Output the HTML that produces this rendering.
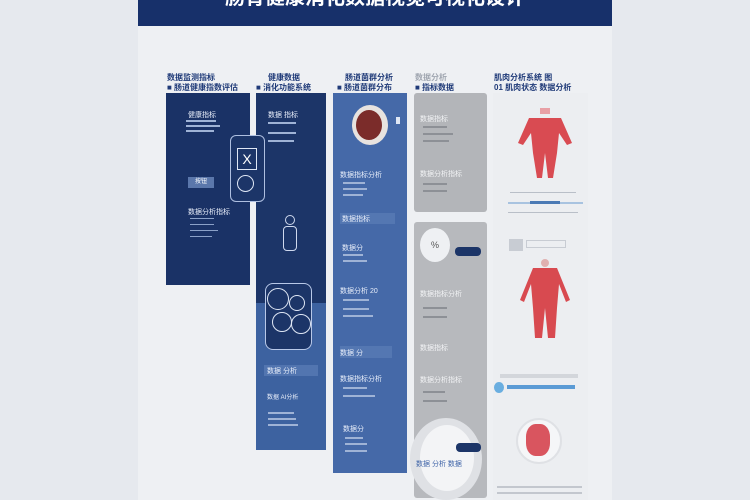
<!DOCTYPE html><html><head><meta charset="utf-8"><style>
body{margin:0;width:750px;height:500px;background:#e6e9ee;position:relative;overflow:hidden;font-family:"Liberation Sans","Noto Sans CJK SC",sans-serif}
div{position:absolute;box-sizing:border-box}
.t{font-size:8px;color:#1f3a78;font-weight:bold;white-space:nowrap}
.w{font-size:7px;color:#e8eefa;white-space:nowrap}
.l{height:2px;background:#9fb3d6}
.g{height:2px;background:#8d9096}
.gl{font-size:7px;color:#f2f3f5;white-space:nowrap}
</style></head><body>
<div style="left:138px;top:0;width:474px;height:500px;background:#eef0f3"></div>
<div style="left:138px;top:0;width:474px;height:26px;background:#17306a;overflow:hidden"><div style="left:0;top:-14px;width:474px;color:#fff;font-size:20px;font-weight:bold;text-align:center;line-height:24px">肠胃健康消化数据视觉可视化设计</div></div>

<div class="t" style="left:167px;top:72px">数据监测指标</div><div class="t" style="left:167px;top:82px">■ 肠道健康指数评估</div>
<div class="t" style="left:268px;top:72px">健康数据</div><div class="t" style="left:256px;top:82px">■ 消化功能系统</div>
<div class="t" style="left:345px;top:72px">肠道菌群分析</div><div class="t" style="left:337px;top:82px">■ 肠道菌群分布</div>
<div class="t" style="left:415px;top:72px;color:#a0a6b0">数据分析</div><div class="t" style="left:415px;top:82px">■ 指标数据</div>
<div class="t" style="left:494px;top:72px">肌肉分析系统 图</div><div class="t" style="left:494px;top:82px">01 肌肉状态 数据分析</div>

<div style="left:166px;top:93px;width:84px;height:192px;background:#1a3266"></div>
<div class="w" style="left:188px;top:110px">健康指标</div>
<div style="left:186px;top:120px;width:30px" class="l"></div><div style="left:186px;top:125px;width:34px" class="l"></div><div style="left:186px;top:130px;width:28px" class="l"></div>
<div style="left:188px;top:177px;width:26px;height:11px;background:#5b77ab;font-size:6px;color:#fff;text-align:center;line-height:11px">按钮</div>
<div class="w" style="left:188px;top:207px">数据分析指标</div>
<div style="left:190px;top:218px;width:24px;height:1px;background:#8ba1c8"></div><div style="left:190px;top:224px;width:24px;height:1px;background:#8ba1c8"></div><div style="left:190px;top:230px;width:28px;height:1px;background:#8ba1c8"></div><div style="left:190px;top:236px;width:22px;height:1px;background:#8ba1c8"></div>

<div style="left:256px;top:93px;width:70px;height:210px;background:#1c3568"></div>
<div style="left:256px;top:303px;width:70px;height:147px;background:#3d62a0"></div>
<div class="w" style="left:268px;top:110px">数据 指标</div>
<div style="left:268px;top:122px;width:28px" class="l"></div><div style="left:268px;top:132px;width:28px" class="l"></div><div style="left:268px;top:140px;width:26px" class="l"></div>
<div style="left:230px;top:135px;width:35px;height:67px;border:1px solid #aebfe0;border-radius:6px;background:#1c3568"></div>
<div style="left:237px;top:148px;width:20px;height:22px;border:1px solid #dfe7f5;color:#fff;font-size:14px;text-align:center;line-height:20px">X</div>
<div style="left:237px;top:175px;width:17px;height:17px;border:1px solid #dfe7f5;border-radius:50%"></div>
<div style="left:285px;top:215px;width:10px;height:10px;border:1px solid #cfd9ee;border-radius:50%"></div>
<div style="left:283px;top:226px;width:14px;height:25px;border:1px solid #cfd9ee;border-radius:4px"></div>
<div style="left:265px;top:283px;width:47px;height:67px;border:1px solid #b8c8e8;border-radius:8px;background:#1c3568"></div>
<div style="left:267px;top:288px;width:22px;height:22px;border:1px solid #dfe7f5;border-radius:50%"></div>
<div style="left:289px;top:295px;width:16px;height:16px;border:1px solid #dfe7f5;border-radius:50%"></div>
<div style="left:272px;top:312px;width:20px;height:20px;border:1px solid #dfe7f5;border-radius:50%"></div>
<div style="left:291px;top:314px;width:20px;height:20px;border:1px solid #dfe7f5;border-radius:50%"></div>
<div style="left:264px;top:365px;width:54px;height:11px;background:#5275b0"></div><div class="w" style="left:267px;top:366px">数据 分析</div>
<div class="w" style="left:267px;top:392px;font-size:6px">数据 AI分析</div>
<div style="left:268px;top:412px;width:26px" class="l"></div><div style="left:268px;top:418px;width:28px" class="l"></div><div style="left:268px;top:424px;width:30px" class="l"></div>

<div style="left:333px;top:93px;width:74px;height:380px;background:#4569a8"></div>
<div style="left:352px;top:105px;width:36px;height:40px;border-radius:50%;background:#e8e3df"></div>
<div style="left:356px;top:110px;width:26px;height:30px;border-radius:50%;background:#7b2c2a"></div>
<div style="left:396px;top:117px;width:4px;height:7px;background:#dfe7f5"></div>
<div class="w" style="left:340px;top:170px">数据指标分析</div>
<div style="left:343px;top:182px;width:22px" class="l"></div><div style="left:343px;top:188px;width:24px" class="l"></div><div style="left:343px;top:194px;width:20px" class="l"></div>
<div style="left:340px;top:213px;width:55px;height:11px;background:#5477b2"></div><div class="w" style="left:342px;top:214px">数据指标</div>
<div class="w" style="left:342px;top:243px">数据分</div>
<div style="left:343px;top:254px;width:20px" class="l"></div><div style="left:343px;top:260px;width:24px" class="l"></div>
<div class="w" style="left:340px;top:286px">数据分析 20</div>
<div style="left:343px;top:299px;width:26px" class="l"></div><div style="left:343px;top:308px;width:26px" class="l"></div><div style="left:343px;top:315px;width:30px" class="l"></div>
<div style="left:340px;top:346px;width:52px;height:12px;background:#5477b2"></div><div class="w" style="left:340px;top:348px">数据 分</div>
<div class="w" style="left:340px;top:374px">数据指标分析</div>
<div style="left:343px;top:387px;width:24px" class="l"></div><div style="left:343px;top:395px;width:32px" class="l"></div>
<div class="w" style="left:343px;top:424px">数据分</div>
<div style="left:345px;top:437px;width:18px" class="l"></div><div style="left:345px;top:443px;width:22px" class="l"></div><div style="left:345px;top:450px;width:22px" class="l"></div>

<div style="left:414px;top:93px;width:73px;height:119px;background:#b3b5b9;border-radius:3px"></div>
<div class="gl" style="left:420px;top:114px">数据指标</div>
<div style="left:423px;top:126px;width:24px" class="g"></div><div style="left:423px;top:133px;width:30px" class="g"></div><div style="left:423px;top:140px;width:26px" class="g"></div>
<div class="gl" style="left:420px;top:169px">数据分析指标</div>
<div style="left:423px;top:183px;width:24px" class="g"></div><div style="left:423px;top:190px;width:24px" class="g"></div>
<div style="left:414px;top:222px;width:73px;height:276px;background:#b7b9bd;border-radius:3px"></div>
<div style="left:420px;top:228px;width:30px;height:34px;border-radius:50%;background:#eef0f3;font-size:9px;color:#555;text-align:center;line-height:34px">%</div>
<div style="left:455px;top:247px;width:26px;height:9px;border-radius:4px;background:#1c3568"></div>
<div class="gl" style="left:420px;top:289px">数据指标分析</div>
<div style="left:423px;top:307px;width:24px" class="g"></div><div style="left:423px;top:316px;width:24px" class="g"></div>
<div class="gl" style="left:420px;top:343px">数据指标</div>
<div class="gl" style="left:420px;top:375px">数据分析指标</div>
<div style="left:423px;top:391px;width:22px" class="g"></div><div style="left:423px;top:400px;width:24px" class="g"></div>
<div style="left:410px;top:418px;width:72px;height:82px;border-radius:50%;background:#dfe1e5"></div>
<div style="left:420px;top:425px;width:54px;height:66px;border-radius:50%;background:#f3f4f6"></div>
<div style="left:456px;top:443px;width:25px;height:9px;border-radius:4px;background:#1c3568"></div>
<div style="left:416px;top:459px;font-size:7px;color:#3f64a8;white-space:nowrap">数据 分析 数据</div>

<div style="left:493px;top:93px;width:95px;height:407px;background:#eceef1"></div>
<svg style="position:absolute;left:515px;top:103px" width="60" height="80" viewBox="0 0 60 80">
<path d="M14 15 L46 15 L57 40 L52 42 L44 30 L42 50 L38 75 L33 75 L30 50 L27 75 L22 75 L18 50 L16 30 L8 42 L3 40 Z" fill="#d94b52"/>
<rect x="25" y="5" width="10" height="6" fill="#e8a0a6"/></svg>
<div style="left:510px;top:192px;width:66px;height:1px;background:#b9bfc8"></div>
<div style="left:508px;top:202px;width:75px;height:2px;background:#a8c3e0"></div><div style="left:530px;top:201px;width:30px;height:3px;background:#4b7ab5"></div>
<div style="left:508px;top:212px;width:70px;height:1px;background:#b9bfc8"></div>
<div style="left:509px;top:239px;width:14px;height:12px;background:#c8ccd3"></div><div style="left:526px;top:240px;width:40px;height:8px;border:1px solid #c8ccd3"></div>
<svg style="position:absolute;left:515px;top:258px" width="60" height="82" viewBox="0 0 60 82">
<circle cx="30" cy="5" r="4" fill="#e0b0b0"/>
<path d="M18 10 L42 10 L55 42 L51 44 L44 26 L42 50 L40 80 L33 80 L30 50 L27 80 L20 80 L18 50 L16 26 L9 44 L5 42 Z" fill="#d84a50"/></svg>
<div style="left:500px;top:374px;width:78px;height:4px;background:#d3d6db"></div>
<div style="left:507px;top:385px;width:68px;height:4px;background:#5b9bd5"></div>
<div style="left:494px;top:382px;width:10px;height:11px;border-radius:50%;background:#6aaee0"></div>
<div style="left:516px;top:418px;width:46px;height:46px;border-radius:50%;border:2px solid #dfe1e5;background:#f5f6f8"></div>
<div style="left:526px;top:424px;width:24px;height:32px;border-radius:40%;background:#d9555f"></div>
<div style="left:497px;top:486px;width:85px;height:2px;background:#c3c7ce"></div><div style="left:497px;top:492px;width:85px;height:2px;background:#c3c7ce"></div>
</body></html>
